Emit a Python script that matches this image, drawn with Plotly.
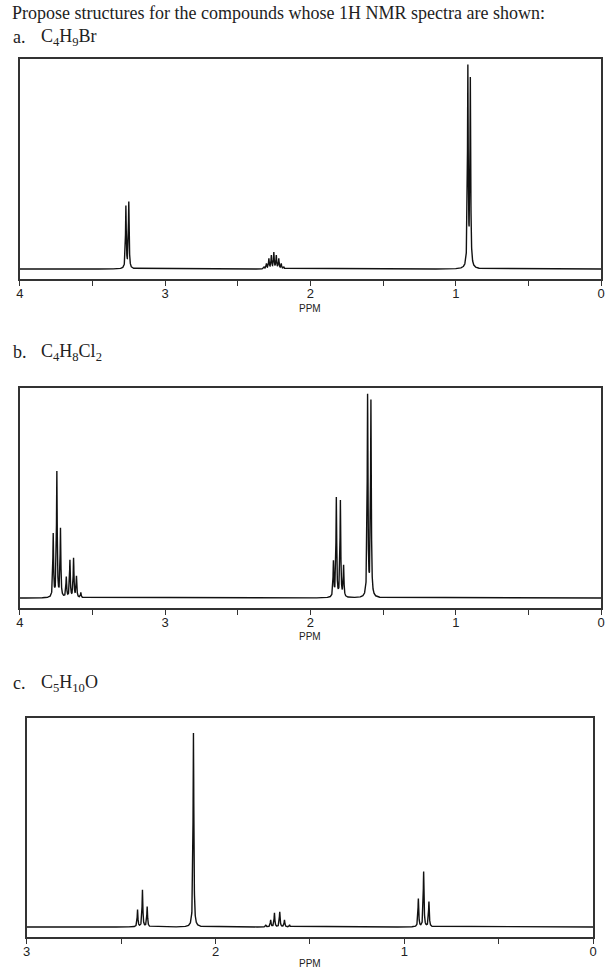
import numpy as np
import plotly.graph_objects as go

# ---------------- data ----------------
# Panel a: C4H9Br  (ppm, intensity)
a_ppm = [3.270, 3.250,
         2.320, 2.303, 2.286, 2.269, 2.252, 2.235, 2.218, 2.201, 2.184,
         0.917, 0.900]
a_int = [62, 66,
         2, 5, 10, 13, 16, 13, 10, 5, 2,
         199, 186]

# Panel b: C4H8Cl2
b_ppm = [3.770, 3.745, 3.720, 3.680, 3.655, 3.630, 3.610, 3.580,
         1.842, 1.822, 1.794, 1.772, 1.607, 1.584]
b_int = [63, 125, 68, 20, 37, 39, 21, 5,
         35, 99, 96, 31, 201, 195]

# Panel c: C5H10O
c_ppm = [2.413, 2.387, 2.362, 2.117,
         1.734, 1.708, 1.688, 1.660, 1.635, 1.608,
         0.926, 0.898, 0.870]
c_int = [17, 37, 20, 194,
         2, 7, 14, 15, 7, 2,
         28, 55, 25]

titles = ["a.", "b.", "c."]
formulas = ["C<sub>4</sub>H<sub>9</sub>Br",
            "C<sub>4</sub>H<sub>8</sub>Cl<sub>2</sub>",
            "C<sub>5</sub>H<sub>10</sub>O"]
x_max = [4, 4, 3]
heading = "Propose structures for the compounds whose 1H NMR spectra are shown:"
axis_title = "PPM"

# ---------------- helpers ----------------
W, H = 615, 973


def spectrum(ppm, inten, xmax, gamma):
    grid = np.union1d(np.linspace(0, xmax, int(xmax / 0.0004) + 1), np.array(ppm))
    y = np.zeros_like(grid)
    for c, h in zip(ppm, inten):
        y += h * gamma ** 2 / (gamma ** 2 + (grid - c) ** 2)
    return grid, y


def py(px):
    return 1 - px / H


def pxx(px):
    return px / W


panels = [
    dict(ppm=a_ppm, inten=a_int, xmax=x_max[0], left=16, right=605, top=59, axis=279, base=269,
         label_y=37, ppm_y=308, gamma=0.0030),
    dict(ppm=b_ppm, inten=b_int, xmax=x_max[1], left=16, right=605, top=388, axis=608, base=598,
         label_y=352, ppm_y=636, gamma=0.0030),
    dict(ppm=c_ppm, inten=c_int, xmax=x_max[2], left=23, right=597, top=718, axis=937, base=927,
         label_y=683, ppm_y=963, gamma=0.0024),
]

fig = go.Figure()
annotations = []
layout_axes = {}
line_col = "#333333"

for i, p in enumerate(panels):
    k = "" if i == 0 else str(i + 1)
    x, y = spectrum(p["ppm"], p["inten"], p["xmax"], p["gamma"])
    fig.add_trace(go.Scatter(x=x, y=y, mode="lines", xaxis="x" + k, yaxis="y" + k,
                             line=dict(color="#111111", width=1.4), hoverinfo="skip",
                             showlegend=False))
    below = p["axis"] - p["base"]
    above = p["base"] - p["top"]
    tv = [v / 2 for v in range(0, 2 * p["xmax"] + 1)]
    tt = [str(int(v)) if v == int(v) else "" for v in tv]
    layout_axes["xaxis" + k] = dict(
        domain=[pxx(p["left"]), pxx(p["right"])], range=[p["xmax"], 0],
        anchor="y" + k, showline=True, mirror=True, linecolor=line_col, linewidth=1.7,
        showgrid=False, zeroline=False, ticks="outside", ticklen=5, tickwidth=1.4,
        tickcolor=line_col, tickvals=tv, ticktext=tt, ticklabelstandoff=-3,
        tickfont=dict(family="Liberation Sans", size=13, color="#222"),
        fixedrange=True)
    layout_axes["yaxis" + k] = dict(
        domain=[py(p["axis"]), py(p["top"])], range=[-below, above],
        anchor="x" + k, showline=True, mirror=True, linecolor=line_col, linewidth=1.7,
        showgrid=False, zeroline=False, showticklabels=False, ticks="",
        fixedrange=True)
    annotations.append(dict(text=titles[i], x=pxx(7), y=py(p["label_y"]), xref="paper", yref="paper",
                            xanchor="left", yanchor="middle", showarrow=False,
                            font=dict(family="Liberation Serif", size=18, color="#222")))
    annotations.append(dict(text=formulas[i], x=pxx(35), y=py(p["label_y"]), xref="paper", yref="paper",
                            xanchor="left", yanchor="middle", showarrow=False,
                            font=dict(family="Liberation Serif", size=18, color="#222")))
    annotations.append(dict(text=axis_title, x=pxx((p["left"] + p["right"]) / 2), y=py(p["ppm_y"]),
                            xref="paper", yref="paper", xanchor="center", yanchor="middle",
                            showarrow=False,
                            font=dict(family="Liberation Sans", size=10, color="#222")))

annotations.append(dict(text=heading, x=pxx(6), y=py(13), xref="paper", yref="paper",
                        xanchor="left", yanchor="middle", showarrow=False,
                        font=dict(family="Liberation Serif", size=18, color="#222")))

fig.update_layout(width=W, height=H, margin=dict(l=0, r=0, t=0, b=0),
                  paper_bgcolor="white", plot_bgcolor="white",
                  annotations=annotations, **layout_axes)

fig.write_html("out.html")
